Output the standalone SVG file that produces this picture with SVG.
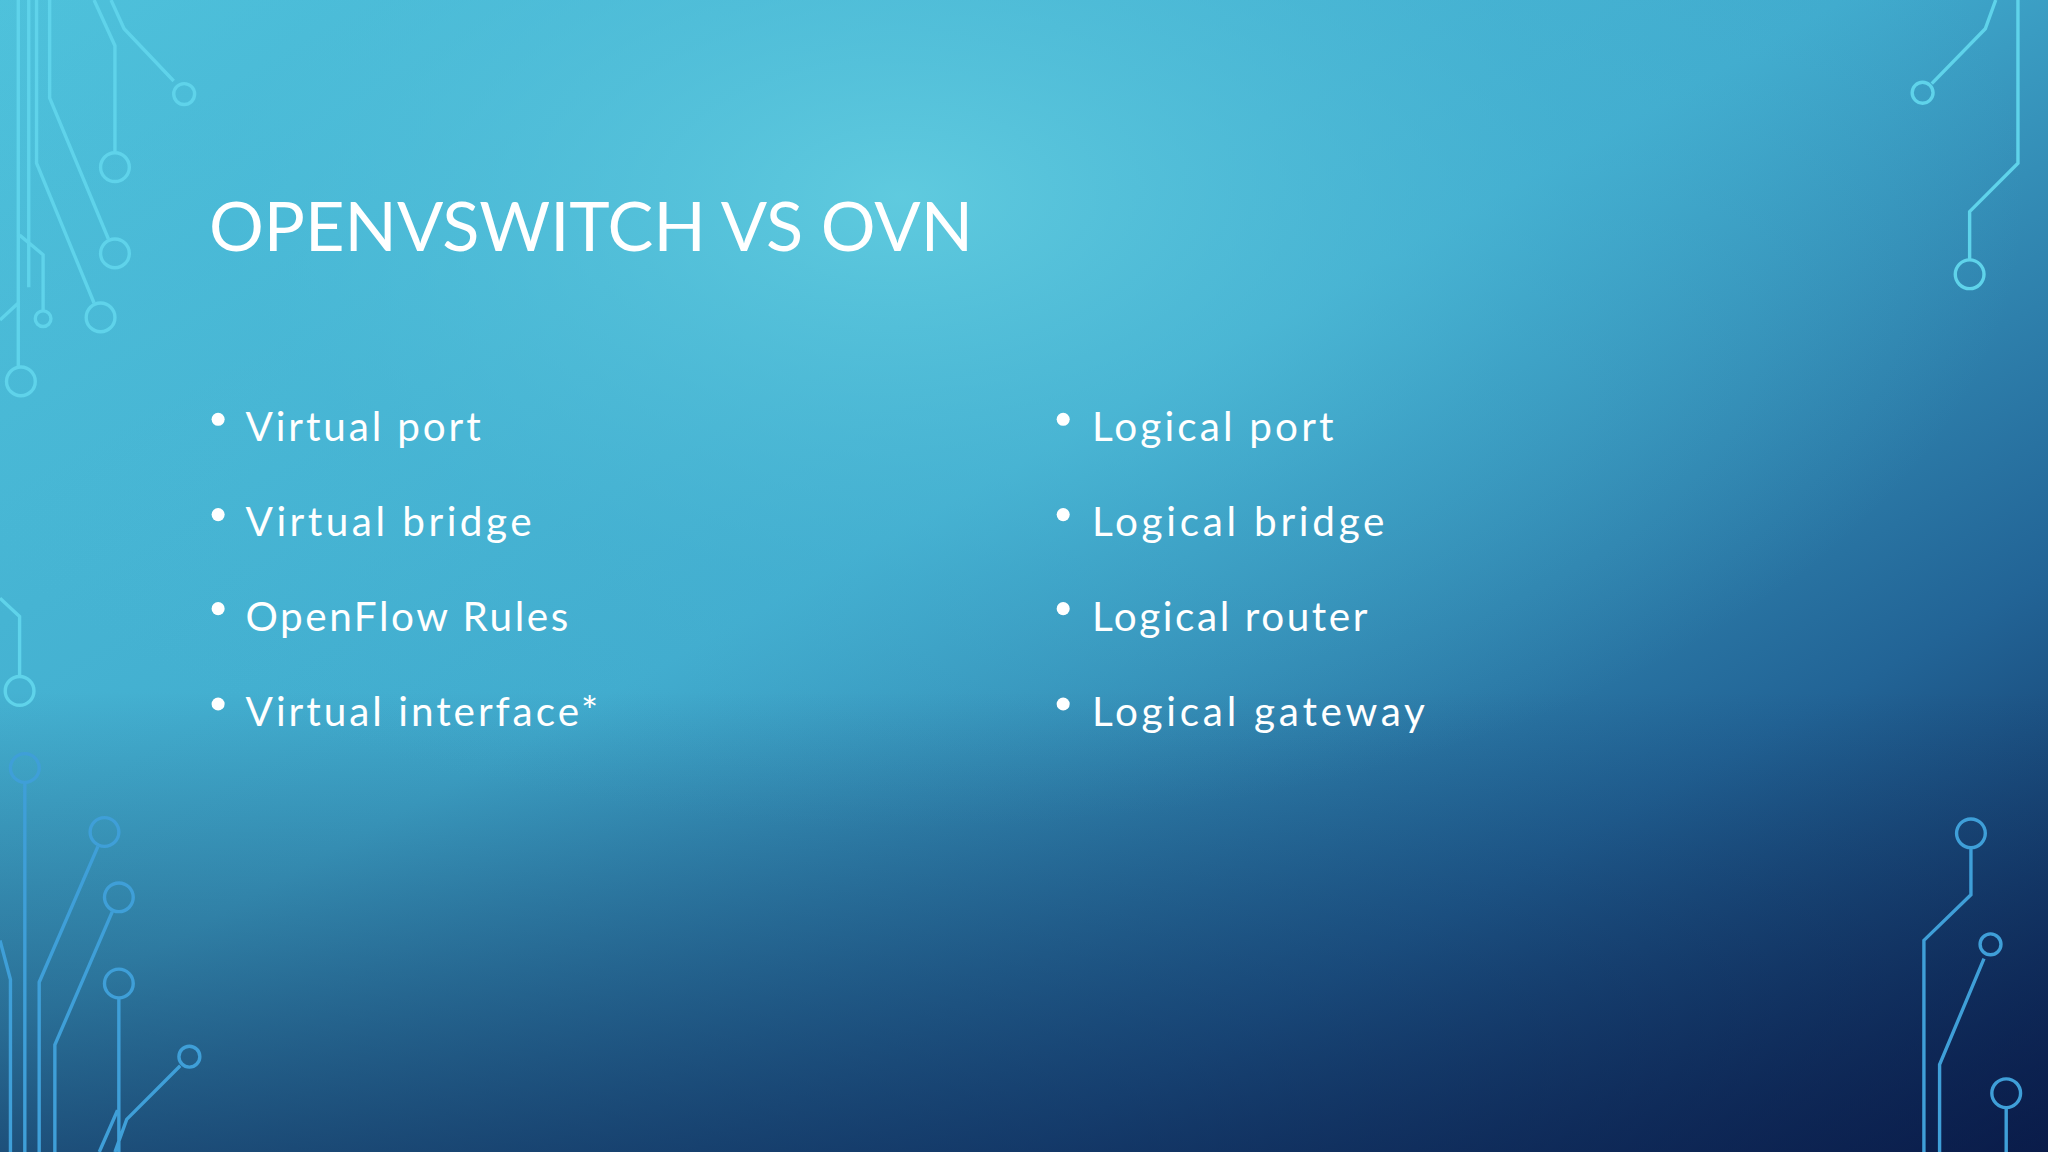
<svg xmlns="http://www.w3.org/2000/svg" width="2048" height="1152" viewBox="0 0 2048 1152">
<defs>
<linearGradient id="bg" x1="0" y1="0" x2="1" y2="1">
<stop offset="0" stop-color="#4fc3dc"/>
<stop offset="0.45" stop-color="#40aacd"/>
<stop offset="0.75" stop-color="#226496"/>
<stop offset="1" stop-color="#0a1c4a"/>
</linearGradient>
<radialGradient id="hl" cx="0.44" cy="0.17" r="0.55">
<stop offset="0" stop-color="#62cde0" stop-opacity="0.9"/>
<stop offset="0.6" stop-color="#4ab8d6" stop-opacity="0.35"/>
<stop offset="1" stop-color="#4ab8d6" stop-opacity="0"/>
</radialGradient>
<linearGradient id="dk" x1="0" y1="0" x2="0" y2="1">
<stop offset="0.6" stop-color="#0a1c4a" stop-opacity="0"/>
<stop offset="1" stop-color="#0a1c4a" stop-opacity="0.6"/>
</linearGradient>
<style>
.c{fill:none;stroke:#5fd3ea;stroke-width:2.6}
.cb{fill:none;stroke:#3f9fd8;stroke-width:2.6}
.t{font-family:"Lato","Noto Sans",sans-serif;fill:#ffffff}
.b{font-size:31px}
</style>
</defs>
<g transform="scale(1.30612)">
<rect width="1568" height="882" fill="url(#bg)"/>
<rect width="1568" height="882" fill="url(#hl)"/>
<rect width="1568" height="882" fill="url(#dk)"/>
<g id="circuits">
<path class="c" d="M14 0V281M22 0V220M38 0V75L83 183M72 0L88 35V116M85 0L95 22L133 62M28 0V125L72 232M15 180L33 195V238M0 245L14 232"/>
<circle class="c" cx="16" cy="292" r="11"/><circle class="c" cx="88" cy="194" r="11"/><circle class="c" cx="88" cy="128" r="11"/><circle class="c" cx="141" cy="72" r="8"/><circle class="c" cx="77" cy="243" r="11"/><circle class="c" cx="33" cy="244" r="6"/>
<path class="c" d="M0 458L15 472V518"/><circle class="c" cx="15" cy="529" r="11"/>
<path class="cb" d="M19 599V882M0 720L8 750V882M75 648L30 752V882M86 698L42 800V882M91 764V882M138 816L97 857L88 882M76 882L90 850"/>
<circle class="cb" cx="19" cy="588" r="11"/><circle class="cb" cx="80" cy="637" r="11"/><circle class="cb" cx="91" cy="687" r="11"/><circle class="cb" cx="91" cy="753" r="11"/><circle class="cb" cx="145" cy="809" r="8"/>
<path class="c" d="M1528 0L1520 22L1479 64M1545 0V125L1508 162V199"/>
<circle class="c" cx="1472" cy="71" r="8"/><circle class="c" cx="1508" cy="210" r="11"/>
<path class="cb" d="M1509 649V685L1473 720V882M1519 734L1485 815V882M1536 848V882"/>
<circle class="cb" cx="1509" cy="638" r="11"/><circle class="cb" cx="1524" cy="723" r="8"/><circle class="cb" cx="1536" cy="837" r="11"/>
</g>
<g id="title"><text class="t" x="160" y="192" font-size="52" textLength="585" lengthAdjust="spacingAndGlyphs">OPENVSWITCH VS OVN</text></g>
<g id="left" class="t b">
<circle cx="167" cy="321" r="5" fill="#fff"/><text x="188" y="338" textLength="180">Virtual port</text>
<circle cx="167" cy="394" r="5" fill="#fff"/><text x="188" y="410" textLength="219">Virtual bridge</text>
<circle cx="167" cy="466" r="5" fill="#fff"/><text x="188" y="483" textLength="247">OpenFlow Rules</text>
<circle cx="167" cy="539" r="5" fill="#fff"/><text x="188" y="556" textLength="270">Virtual interface*</text>
</g>
<g id="right" class="t b">
<circle cx="814" cy="321" r="5" fill="#fff"/><text x="836" y="338" textLength="185">Logical port</text>
<circle cx="814" cy="394" r="5" fill="#fff"/><text x="836" y="410" textLength="224">Logical bridge</text>
<circle cx="814" cy="466" r="5" fill="#fff"/><text x="836" y="483" textLength="211">Logical router</text>
<circle cx="814" cy="539" r="5" fill="#fff"/><text x="836" y="556" textLength="255">Logical gateway</text>
</g>
</g>
</svg>
